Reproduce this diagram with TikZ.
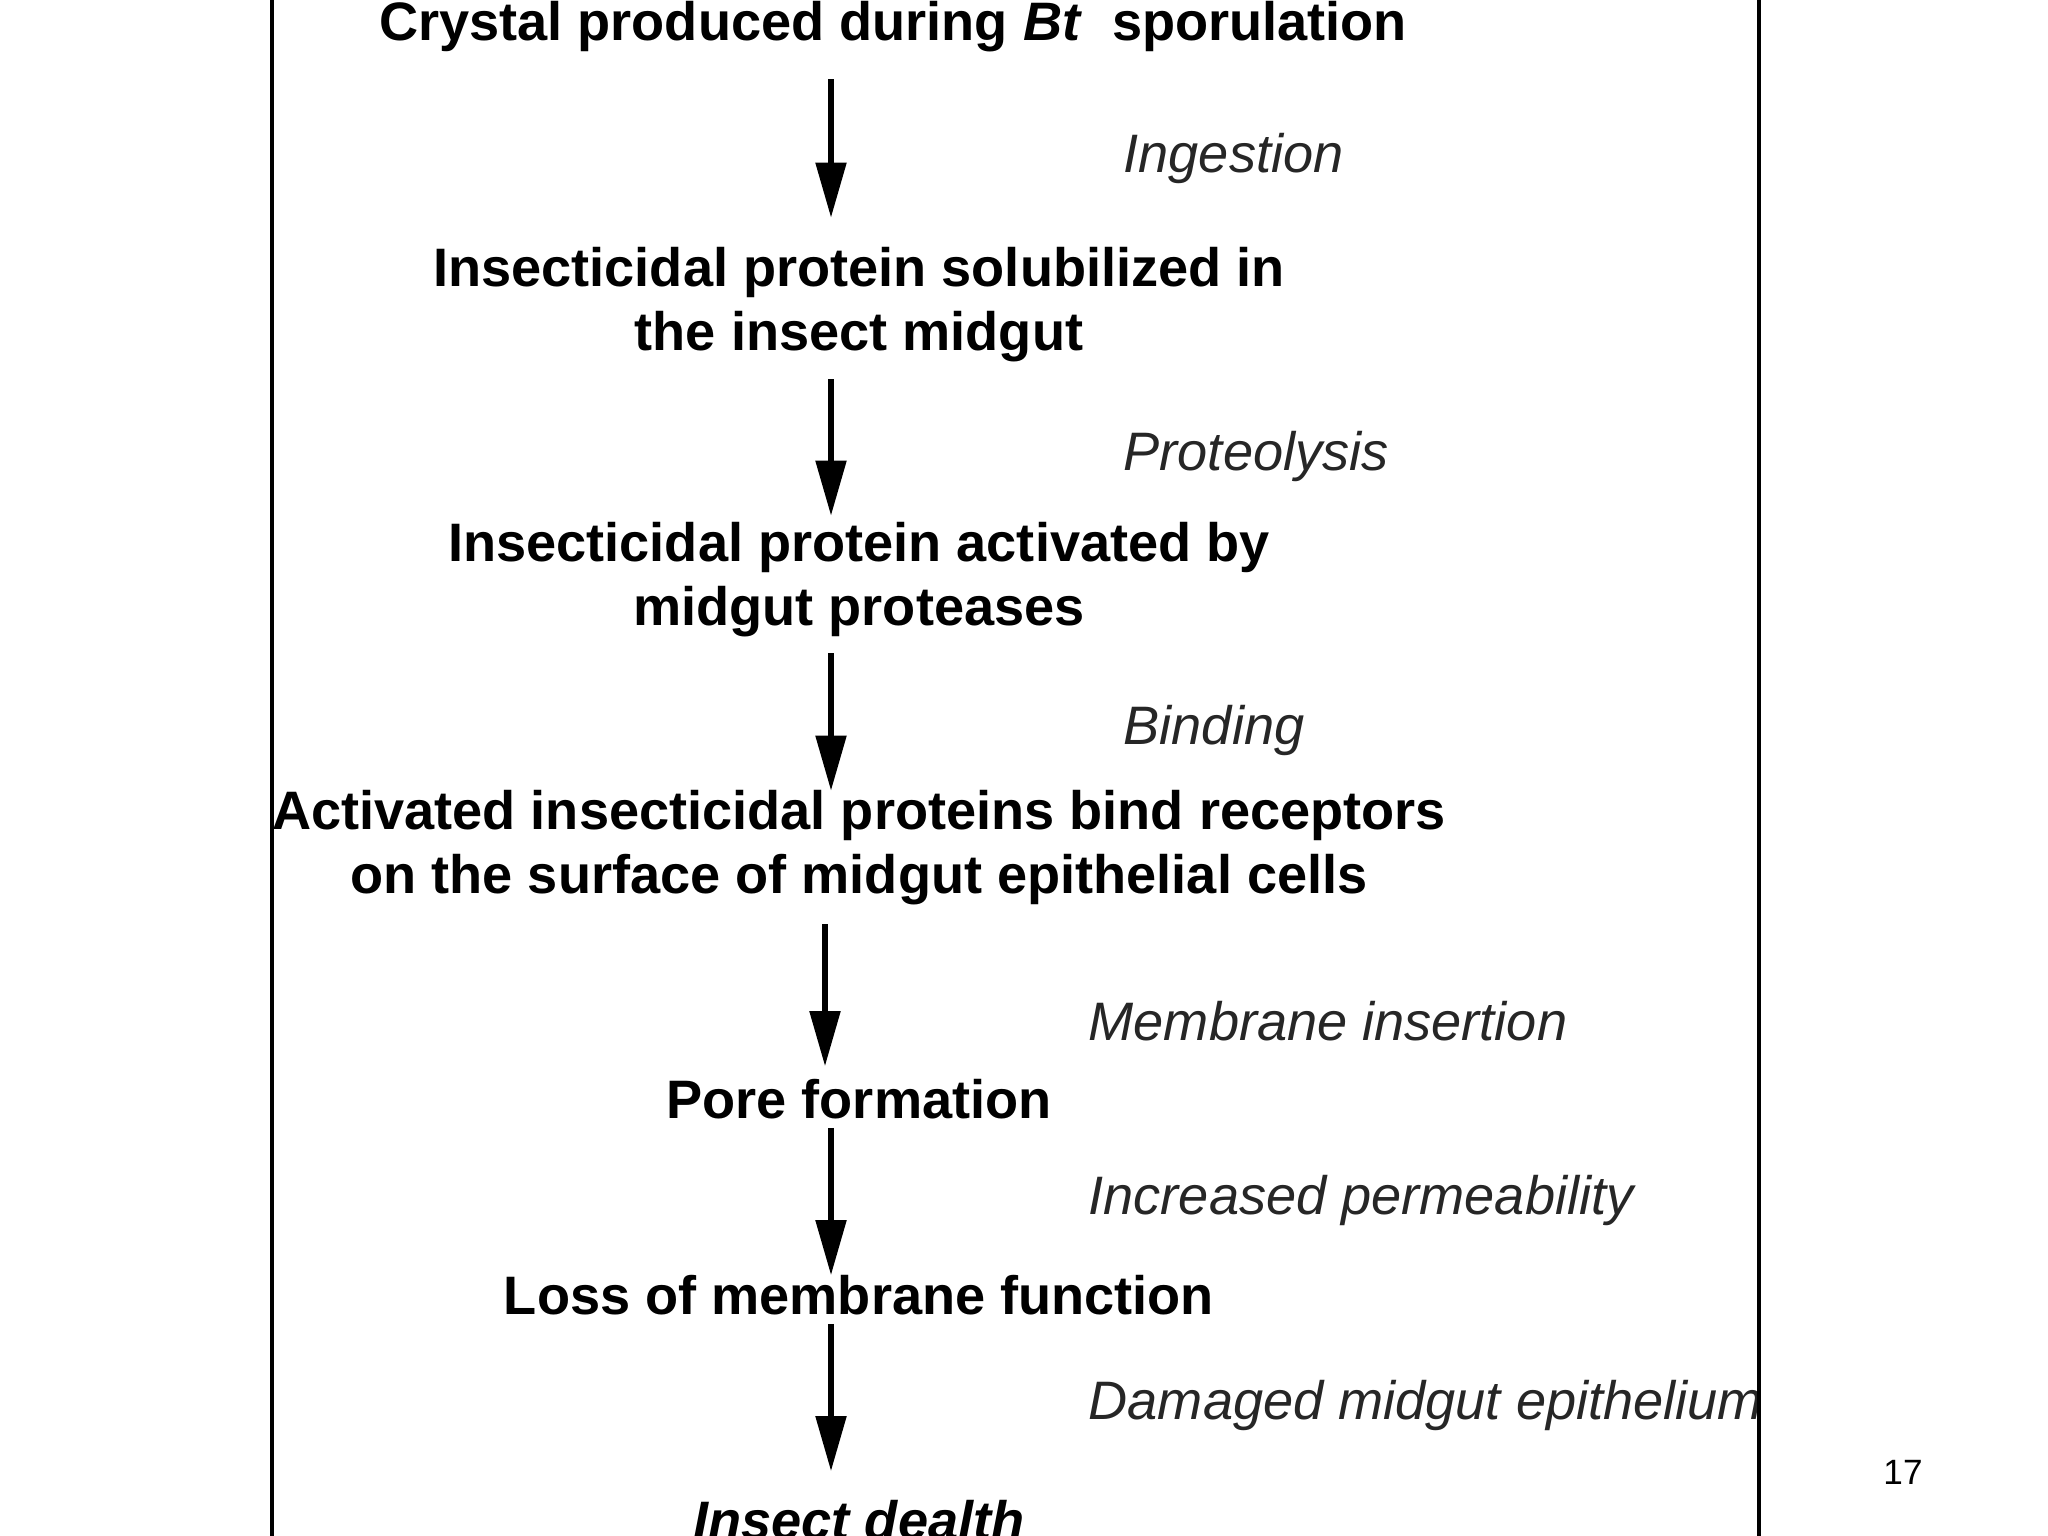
\documentclass[tikz,border=0pt]{standalone}
\usepackage{fontspec}
\setmainfont{Liberation Sans}
\usetikzlibrary{arrows.meta}

\tikzset{
  stage/.style={align=center, inner sep=0pt, outer sep=0pt,
    font=\fontsize{15.4}{18.2}\selectfont\bfseries},
  process/.style={anchor=west, inner sep=0pt, text=black!85,
    font=\fontsize{15.4}{18.2}\selectfont\itshape},
  flow/.style={line width=1.5pt, -{Triangle[length=0.55cm,width=0.30cm]}},
  frame/.style={line width=1.1pt}
}

\begin{document}
\begin{tikzpicture}[x=0.01cm, y=-0.01cm]
\useasboundingbox (0,0) rectangle (2048,1536);

% stages of the pathway
\node[stage] (crystal) at (893,27) {Crystal produced during \textit{Bt}\ \ sporulation};
\node[stage] (soluble) at (859,305) {Insecticidal protein solubilized in\\the insect midgut};
\node[stage] (active) at (859,580) {Insecticidal protein activated by\\midgut proteases};
\node[stage] (bound) at (859,848) {Activated insecticidal proteins bind receptors\\on the surface of midgut epithelial cells};
\node[stage] (pore) at (859,1099) {Pore formation};
\node[stage] (loss) at (859,1295) {Loss of membrane function};
\node[stage, font=\fontsize{15.4}{18.2}\selectfont\bfseries\itshape] (death) at (859,1520) {Insect dealth};

% arrows
\coordinate (axis) at (831,0);
\coordinate (axisb) at (825,0);
\draw[flow, shorten <=0.27cm, shorten >=0.30cm] (crystal.south -| axis) -- (soluble.north -| axis);
\draw[flow, shorten <=0.17cm, shorten >=0.07cm] (soluble.south -| axis) -- (active.north -| axis);
\draw[flow, shorten <=0.16cm] (active.south -| axis) -- (bound.north -| axis);
\draw[flow, shorten <=0.19cm, shorten >=0.13cm] (bound.south -| axisb) -- (pore.north -| axisb);
\draw[flow, shorten <=0.09cm] (pore.south -| axis) -- (loss.north -| axis);
\draw[flow, shorten <=0.09cm, shorten >=0.29cm] (loss.south -| axis) -- (death.north -| axis);

% processes
\node[process] (ingest) at (1123,158) {Ingestion};
\node[process] (proteo) at (1123,456) {Proteolysis};
\node[process] (binding) at (1123,730) {Binding};
\node[process] (insert) at (1088,1021) {Membrane insertion};
\node[process] (perm) at (1088,1200) {Increased permeability};
\node[process] (damage) at (1088,1405) {Damaged midgut epithelium};

% frame and page number
\fill[white] (1760,0) rectangle (2048,1536);
\draw[frame] (272,0) -- (272,1536);
\draw[frame] (1759,0) -- (1759,1536);
\node[font=\fontsize{10}{12}\selectfont] (page) at (1903,1472) {17};
\end{tikzpicture}
\end{document}
